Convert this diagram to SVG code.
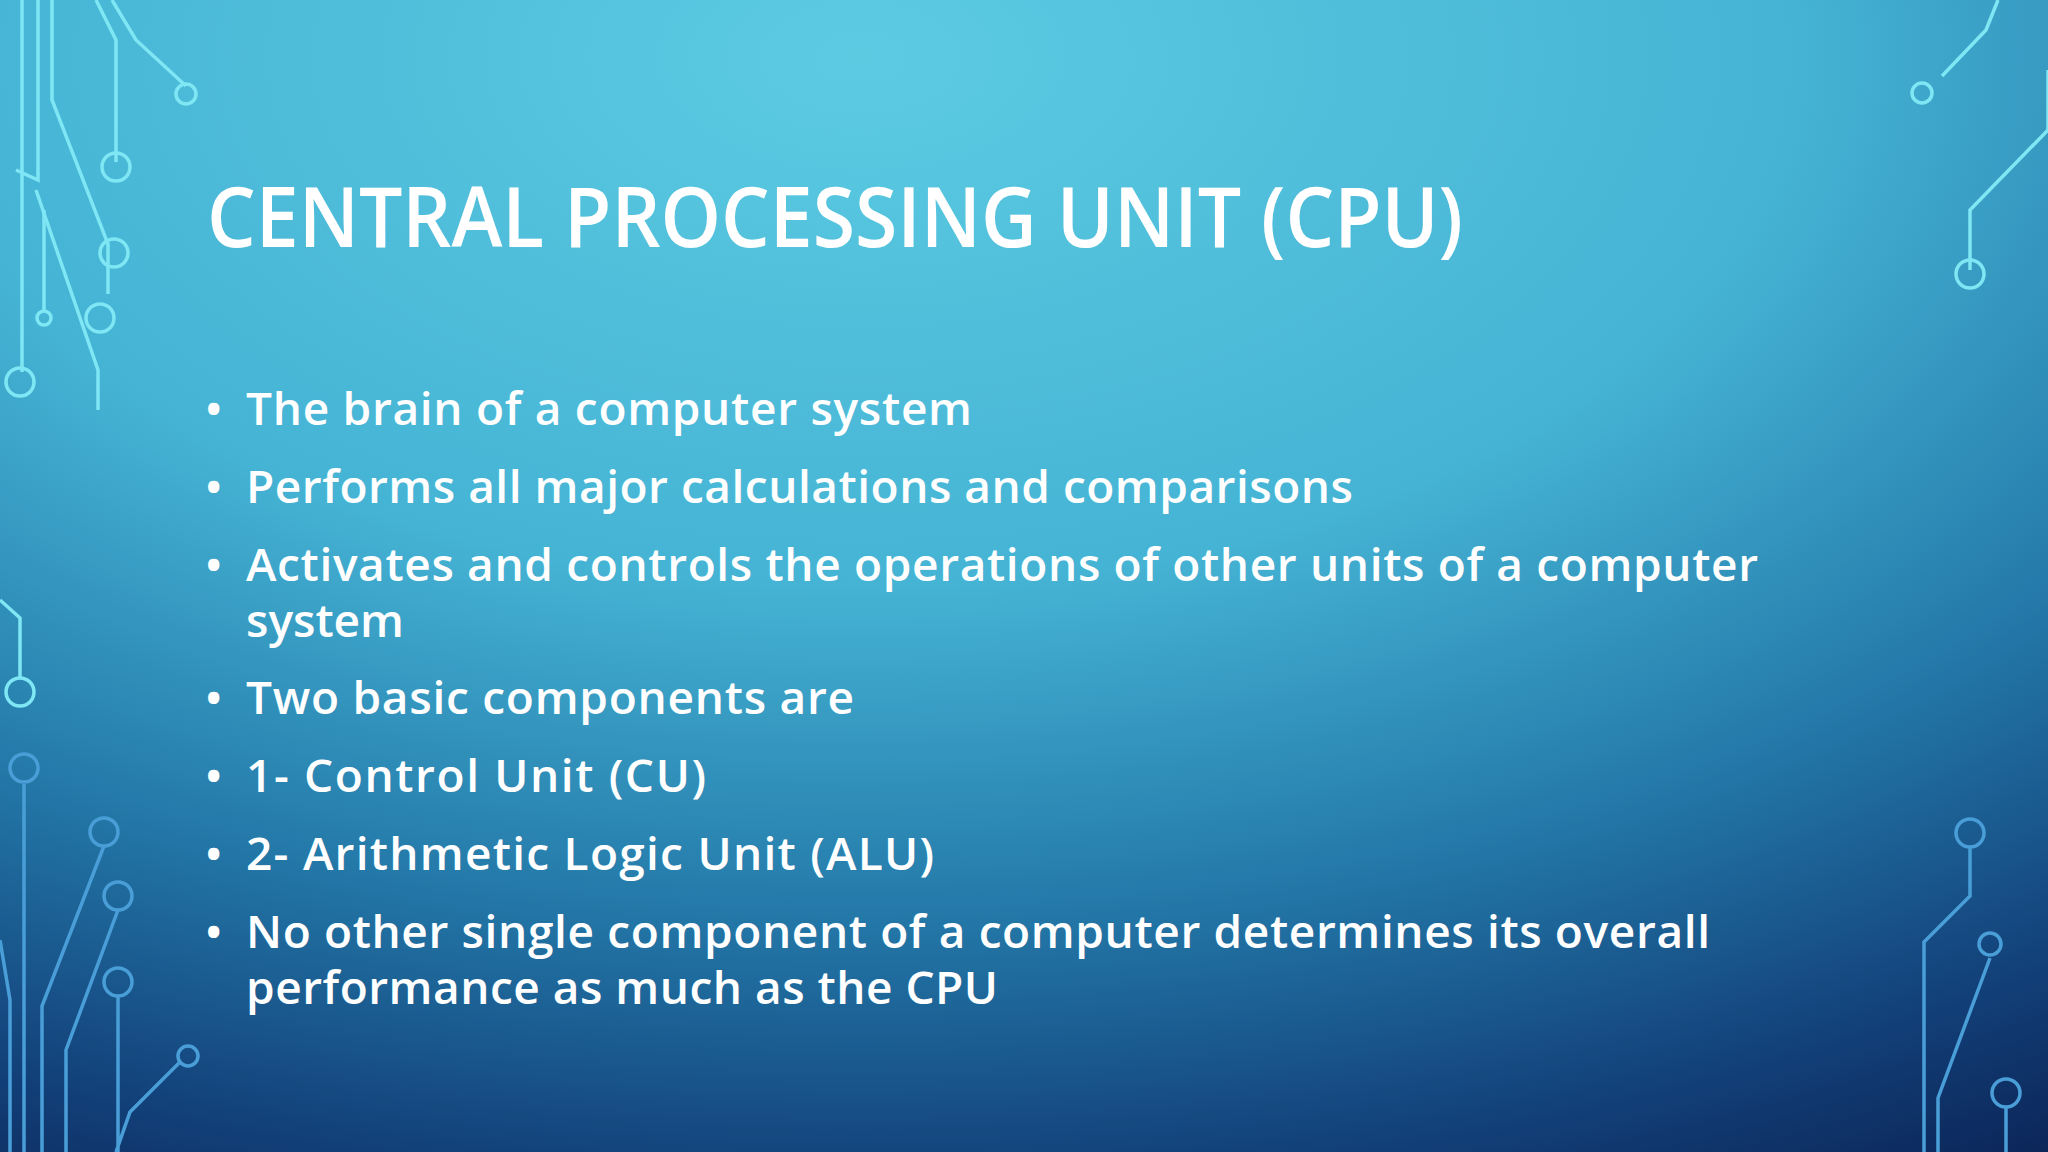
<svg xmlns="http://www.w3.org/2000/svg" width="2048" height="1152" viewBox="0 0 2048 1152">
<defs>
<radialGradient id="bg" cx="0.42" cy="0.05" r="1.15" fx="0.42" fy="0.05">
<stop offset="0" stop-color="#5ccbe2"/>
<stop offset="0.4" stop-color="#45b3d4"/>
<stop offset="0.65" stop-color="#2378a8"/>
<stop offset="0.85" stop-color="#123f78"/>
<stop offset="1" stop-color="#0a1f50"/>
</radialGradient>
<style>
.c{fill:none;stroke:#7fe6f4;stroke-width:3.5}
.d{fill:none;stroke:#4a9ed8;stroke-width:3.5}
.t{font-family:"Open Sans","Noto Sans",sans-serif;fill:#fff;font-weight:600}
.b{font-size:46px}
</style>
</defs>
<rect width="2048" height="1152" fill="url(#bg)"/>
<g id="circuits">
<path class="c" d="M22 0V372M38 0V180l-22 -10M52 0V100l56 144v50M96 0l20 40v122M112 0l24 40 50 46M36 190l62 180v40"/>
<circle class="c" cx="186" cy="94" r="10"/><circle class="c" cx="116" cy="167" r="14"/><circle class="c" cx="114" cy="253" r="14"/><circle class="c" cx="100" cy="318" r="14"/><circle class="c" cx="44" cy="318" r="7"/><circle class="c" cx="20" cy="382" r="14"/>
<path class="c" d="M44 210v100M0 600l20 18v60"/><circle class="c" cx="20" cy="692" r="14"/>
<path class="d" d="M24 784V1152M104 846l-62 160v146M118 910l-52 140v102M118 996v156M180 1062l-50 50-14 40M0 940l10 60v152"/>
<circle class="d" cx="24" cy="768" r="14"/><circle class="d" cx="104" cy="832" r="14"/><circle class="d" cx="118" cy="896" r="14"/><circle class="d" cx="118" cy="982" r="14"/><circle class="d" cx="188" cy="1056" r="10"/>
<path class="c" d="M1998 0l-12 30-44 46M2048 70v60l-78 80v60"/>
<circle class="c" cx="1922" cy="93" r="10"/><circle class="c" cx="1970" cy="274" r="14"/>
<path class="d" d="M1970 846v50l-46 46V1152M1990 958l-52 140v54M2006 1108v44"/>
<circle class="d" cx="1970" cy="833" r="14"/><circle class="d" cx="1990" cy="944" r="11"/><circle class="d" cx="2006" cy="1093" r="14"/>
</g>
<g id="title"><text class="t" x="207" y="247" font-size="84" textLength="1256" lengthAdjust="spacingAndGlyphs">CENTRAL PROCESSING UNIT (CPU)</text></g>
<g id="bullets" class="t b">
<text x="205" y="425">•</text><text x="246" y="425" textLength="726">The brain of a computer system</text>
<text x="205" y="503">•</text><text x="246" y="503" textLength="1107">Performs all major calculations and comparisons</text>
<text x="205" y="581">•</text><text x="246" y="581" textLength="1512">Activates and controls the operations of other units of a computer</text>
<text x="246" y="637">system</text>
<text x="205" y="714">•</text><text x="246" y="714" textLength="608">Two basic components are</text>
<text x="205" y="792">•</text><text x="246" y="792" textLength="460">1- Control Unit (CU)</text>
<text x="205" y="870">•</text><text x="246" y="870" textLength="688">2- Arithmetic Logic Unit (ALU)</text>
<text x="205" y="948">•</text><text x="246" y="948" textLength="1464">No other single component of a computer determines its overall</text>
<text x="246" y="1004" textLength="752">performance as much as the CPU</text>
</g>
</svg>
